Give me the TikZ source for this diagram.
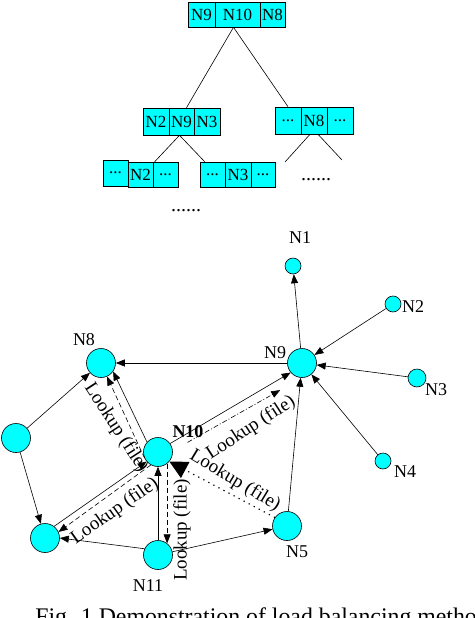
\documentclass[tikz,border=0pt]{standalone}
\usepackage{fontspec}
\setmainfont{Liberation Serif}
\usetikzlibrary{arrows.meta}

\definecolor{aqua}{RGB}{0,255,255}

\tikzset{
	cell/.style={draw,fill=aqua,inner sep=0pt,minimum height=25pt,font=\fontsize{17}{17}\selectfont},
	peer/.style={circle,draw,fill=aqua,inner sep=0pt,minimum size=29pt},
	leaf/.style={circle,draw,fill=aqua,inner sep=0pt,minimum size=16pt},
	nlabel/.style={font=\fontsize{18}{18}\selectfont,inner sep=0pt},
	lookup/.style={font=\fontsize{19}{19}\selectfont,inner sep=0pt},
	link/.style={-{Triangle[length=9pt,width=7pt]}},
	query/.style={link,dash pattern=on 5pt off 3pt},
}

\begin{document}
\begin{tikzpicture}[x=1pt,y=-1pt,line width=0.6pt]
	\useasboundingbox (0,0) rectangle (474,618);
	\clip (0,0) rectangle (474,618);
	\node[cell,minimum width=27pt] (r1) at (201.5,14.5) {N9};
	\node[cell,minimum width=45pt] (r2) at (237.5,14.5) {N10};
	\node[cell,minimum width=25pt] (r3) at (272.5,14.5) {N8};
	\node[cell,minimum width=26pt,minimum height=27pt] (l1) at (156,121.5) {N2};
	\node[cell,minimum width=25pt,minimum height=27pt] (l2) at (181.5,121.5) {N9};
	\node[cell,minimum width=26pt,minimum height=27pt] (l3) at (207,121.5) {N3};
	\node[cell,minimum width=26pt,minimum height=27pt] (m1) at (288,120.5) {...};
	\node[cell,minimum width=26pt,minimum height=27pt] (m2) at (314,120.5) {N8};
	\node[cell,minimum width=26pt,minimum height=27pt] (m3) at (340,120.5) {...};
	\node[cell,minimum width=25pt,minimum height=26pt] (g1) at (115.5,173) {...};
	\node[cell,minimum width=25pt] (g2) at (140.5,174.5) {N2};
	\node[cell,minimum width=25pt] (g3) at (165.5,174.5) {...};
	\node[cell,minimum width=25pt] (h1) at (212.5,174.5) {...};
	\node[cell,minimum width=26pt] (h2) at (238,174.5) {N3};
	\node[cell,minimum width=24pt] (h3) at (263,174.5) {...};
	\node[anchor=base,font=\fontsize{20}{20}\selectfont] (d1) at (316,180) {......};
	\node[anchor=base,font=\fontsize{20}{20}\selectfont] (d2) at (186,211) {......};
	\coordinate (rt) at ([xshift=-4pt]r2.south);
	\coordinate (lb) at ([xshift=-2pt]l2.south);
	\coordinate (m2a) at (285,162);
	\coordinate (m2b) at (342,160);
	\draw (rt) -- ([xshift=5pt]l2.north);
	\draw (rt) -- (m1.north);
	\draw (lb) -- ([xshift=2pt]g3.north west);
	\draw (lb) -- ([xshift=5pt]h1.north west);
	\draw ([xshift=-4pt]m2.south) -- (m2a);
	\draw ([xshift=4pt]m2.south) -- (m2b);

	\node[lookup,rotate=-57] (q8) at (116,428) {Lookup (file)};
	\node[lookup,rotate=33] (q9) at (251,428) {Lookup (file)};
	\node[lookup,rotate=35] (qb) at (115,511) {Lookup (file)};
	\node[lookup,rotate=90] (q11) at (182,530) {Lookup (file)};
	\node[lookup,rotate=-31] (q5) at (235,481) {Lookup (file)};

	\node[leaf] (n1) at (293,266) {};
	\node[leaf] (n2) at (393,304) {};
	\node[leaf,minimum size=18pt] (n3) at (417,378) {};
	\node[leaf] (n4) at (383,461) {};
	\node[peer] (n8) at (101,363) {};
	\node[peer] (n9) at (302,363) {};
	\node[peer] (n10) at (158,452) {};
	\node[peer] (na) at (16,438) {};
	\node[peer] (nb) at (45,538) {};
	\node[peer] (n11) at (158,555) {};
	\node[peer] (n5) at (287,526) {};

	\node[nlabel] (t1) at (300,238) {N1};
	\node[nlabel] (t2) at (413,307) {N2};
	\node[nlabel] (t3) at (436,390) {N3};
	\node[nlabel] (t4) at (405,472) {N4};
	\node[nlabel] (t5) at (297,552) {N5};
	\node[nlabel] (t8) at (84,340) {N8};
	\node[nlabel] (t9) at (275,353) {N9};
	\node[nlabel,font=\fontsize{18}{18}\selectfont\bfseries] (t10) at (188,432) {N10};
	\node[nlabel] (t11) at (148,586) {N11};

	\draw[link] (n9) -- (n1);
	\draw[link] (n2) -- (n9);
	\draw[link] (n3) -- (n9);
	\draw[link] (n4) -- (n9);
	\draw[link] (n5) -- (n9);
	\draw[link] (n9) -- (n8);
	\draw[link] (na) -- (n8);
	\draw[link] (na) -- (nb);
	\draw[link] (n10.138) -- (n8.-35);
	\draw[link] (n10.35) -- (n9.-140);
	\draw[link] (nb.52) -- (n10.-140);
	\draw[link] (n11.155) -- (nb.0);
	\draw[link] (n11) -- (n10);
	\draw[link] (n11) -- (n5);
	\draw[query] (n10.-155) -- (n8.-66);
	\draw[query] (n10.-119) -- (nb.24);
	\draw[query] (n10.-52) -- (n11.52);
	\draw[link,dash pattern=on 5pt off 2pt on 1pt off 2pt,shorten <=17pt,shorten >=25pt] (n10.5) -- (n9.-90);
	\draw[-{Triangle[length=18pt,width=18pt]},line width=1.2pt,dash pattern=on 1.2pt off 4.5pt] (n5.145) -- (n10.-40);

	\node[anchor=base west,inner sep=0pt,font=\fontsize{23.8}{24}\selectfont] (cap) at (35,624) {Fig. 1 Demonstration of load balancing method};
\end{tikzpicture}
\end{document}
